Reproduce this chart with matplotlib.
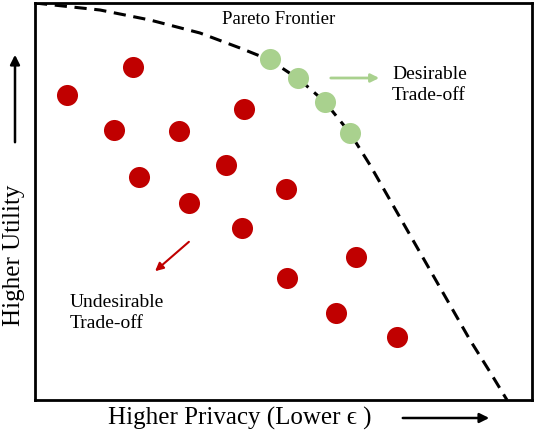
import matplotlib
matplotlib.use("Agg")
import matplotlib.pyplot as plt

plt.rcParams['font.family'] = ['Liberation Serif', 'DejaVu Serif']

red_x = [67, 133, 114, 179, 244, 139, 226, 189, 286, 242, 356, 287, 336, 397]
red_y = [95, 67, 130, 131, 109, 177, 165, 203, 189, 228, 257, 278, 313, 337]
green_x = [270, 298, 325, 350]
green_y = [59, 78, 102, 133]
front_x = [35, 100, 150, 200, 240, 270, 300, 325, 350, 370, 390, 410, 430, 450, 470, 490, 507]
front_y = [3, 10, 20, 33, 48, 60, 80, 102, 133, 165, 200, 235, 270, 305, 340, 372, 400]

W, H = 540, 436
fig = plt.figure(figsize=(5.4, 4.36), dpi=100)
ax = fig.add_axes([35/W, (H-400)/H, 497/W, 397/H])
ax.set_xlim(35, 532)
ax.set_ylim(400, 3)
ax.set_xticks([]); ax.set_yticks([])
for s in ax.spines.values():
    s.set_linewidth(2)

ax.plot(front_x, front_y, '--', color='black', lw=2.2, dashes=(4, 2.5), zorder=2)
ax.scatter(red_x, red_y, s=230, color='#c00000', zorder=3, linewidths=0)
ax.scatter(green_x, green_y, s=230, color='#a9d18e', zorder=3, linewidths=0)

ax.text(279, 20, 'Pareto Frontier', ha='center', va='center', fontsize=13.5)
ax.text(392, 85, 'Desirable\nTrade-off', ha='left', va='center', fontsize=14, linespacing=1.3)
ax.text(70, 313, 'Undesirable\nTrade-off', ha='left', va='center', fontsize=14, linespacing=1.3)
ax.annotate('', xy=(382, 78), xytext=(328, 78),
            arrowprops=dict(arrowstyle='-|>', color='#a9d18e', lw=2, mutation_scale=12))
ax.annotate('', xy=(153, 273), xytext=(191, 240),
            arrowprops=dict(arrowstyle='-|>', color='#c00000', lw=1.5, mutation_scale=12))

ax.text(14, 255, 'Higher Utility', rotation=90, ha='center', va='center', fontsize=18, clip_on=False)
ax.annotate('', xy=(15, 52), xytext=(15, 145), xycoords='data',
            arrowprops=dict(arrowstyle='-|>', color='black', lw=1.8, mutation_scale=14), annotation_clip=False)
ax.text(240, 418, 'Higher Privacy (Lower ϵ )', ha='center', va='center', fontsize=18, clip_on=False)
ax.annotate('', xy=(492, 418), xytext=(400, 418),
            arrowprops=dict(arrowstyle='-|>', color='black', lw=1.8, mutation_scale=14), annotation_clip=False)

fig.savefig('out.png', dpi=100)
